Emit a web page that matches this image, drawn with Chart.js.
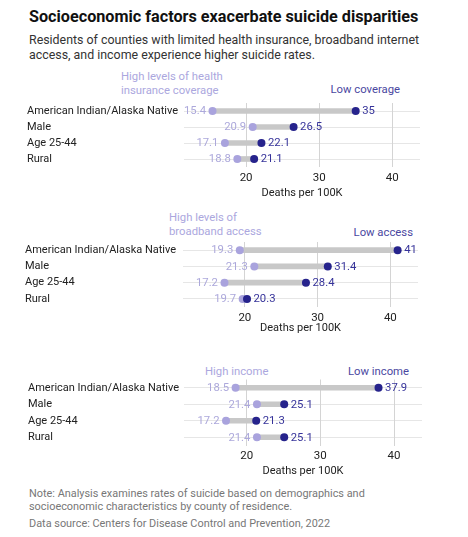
<!DOCTYPE html>
<html>
<head>
<meta charset="utf-8">
<script src="https://cdn.jsdelivr.net/npm/chart.js@4.4.1/dist/chart.umd.min.js"></script>
<style>
  body { margin: 0; background: #fff; font-family: Roboto, sans-serif; }
  #wrap { position: relative; width: 468px; height: 537px; overflow: hidden; }
  .abs { position: absolute; white-space: nowrap; }
  .title { left: 29px; top: 7px; font-size: 16.2px; font-weight: 700; color: #111; }
  .sub { left: 29px; top: 32px; font-size: 12.4px; line-height: 15px; color: #333; }
  .light { color: #aba7de; font-size: 11.3px; line-height: 13.5px; }
  .dark { color: #4a479f; font-size: 11.3px; line-height: 13.5px; }
  .note { left: 29px; font-size: 10.9px; line-height: 13px; color: #777; }
  .panel { position: absolute; left: 0; width: 468px; }
</style>
</head>
<body>
<div id="wrap">
  <div class="abs title">Socioeconomic factors exacerbate suicide disparities</div>
  <div class="abs sub">Residents of counties with limited health insurance, broadband internet<br>access, and income experience higher suicide rates.</div>

  <div class="abs light" style="left:121px; top:70px;">High levels of health<br>insurance coverage</div>
  <div class="abs dark" style="right:68px; top:83px;">Low coverage</div>
  <div class="panel" style="top:65px; height:135px;"><canvas id="c1"></canvas></div>

  <div class="abs light" style="left:169px; top:211px;">High levels of<br>broadband access</div>
  <div class="abs dark" style="right:55px; top:226px;">Low access</div>
  <div class="panel" style="top:210px; height:125px;"><canvas id="c2"></canvas></div>

  <div class="abs light" style="left:205px; top:365px;">High income</div>
  <div class="abs dark" style="right:59px; top:365px;">Low income</div>
  <div class="panel" style="top:350px; height:128px;"><canvas id="c3"></canvas></div>

  <div class="abs note" style="top:487px;">Note: Analysis examines rates of suicide based on demographics and<br>socioeconomic characteristics by county of residence.</div>
  <div class="abs note" style="top:517px;">Data source: Centers for Disease Control and Prevention, 2022</div>
</div>
<script>
// categories and values (deaths per 100K)
const groups = ['American Indian/Alaska Native', 'Male', 'Age 25-44', 'Rural'];
const xTicks = [20, 30, 40];

const insuranceHigh = [15.4, 20.9, 17.1, 18.8];
const insuranceLow = [35, 26.5, 22.1, 21.1];

const broadbandHigh = [19.3, 21.3, 17.2, 19.7];
const broadbandLow = [41, 31.4, 28.4, 20.3];

const incomeHigh = [18.5, 21.4, 17.2, 21.4];
const incomeLow = [37.9, 25.1, 21.3, 25.1];

const lightColor = '#a9a3dd';
const darkColor = '#26238c';

// draws the value next to each dot
const valueLabels = {
    id: 'valueLabels',
    afterDatasetsDraw(chart) {
        const ctx = chart.ctx;
        ctx.save();
        ctx.font = '11.3px Roboto';
        ctx.textBaseline = 'middle';
        chart.data.datasets.forEach((ds, i) => {
            if (!ds.side) return;
            const meta = chart.getDatasetMeta(i);
            meta.data.forEach((pt, j) => {
                const v = ds.data[j];
                if (ds.side === 'left') {
                    ctx.fillStyle = '#aca8db';
                    ctx.textAlign = 'right';
                    ctx.fillText(v, pt.x - 6.5, pt.y + 0.5);
                } else {
                    ctx.fillStyle = '#36339a';
                    ctx.textAlign = 'left';
                    ctx.fillText(v, pt.x + 6.5, pt.y + 0.5);
                }
            });
        });
        ctx.restore();
    }
};

function makeChart(id, high, low, pad, axisHeight) {
    const ctx = document.getElementById(id).getContext('2d');
    return new Chart(ctx, {
        type: 'bar',
        data: {
            labels: groups,
            datasets: [{
                type: 'line',
                data: low,
                side: 'right',
                showLine: false,
                pointRadius: 4,
                pointHoverRadius: 4,
                pointBackgroundColor: darkColor,
                pointBorderWidth: 0,
                order: 0
            }, {
                type: 'line',
                data: high,
                side: 'left',
                showLine: false,
                pointRadius: 4,
                pointHoverRadius: 4,
                pointBackgroundColor: lightColor,
                pointBorderWidth: 0,
                order: 1
            }, {
                data: high.map((h, i) => [h, low[i]]),
                backgroundColor: '#c8c8c8',
                barThickness: 5,
                borderSkipped: false,
                order: 2
            }]
        },
        options: {
            indexAxis: 'y',
            responsive: true,
            maintainAspectRatio: false,
            animation: false,
            layout: {
                padding: { left: pad.left, right: pad.right, top: pad.top, bottom: 0 }
            },
            plugins: {
                legend: { display: false },
                tooltip: { enabled: false }
            },
            scales: {
                y: {
                    type: 'category',
                    border: { display: false },
                    grid: { offset: false, color: '#e6e6e6', drawTicks: false },
                    ticks: {
                        autoSkip: false,
                        crossAlign: 'far',
                        color: '#222',
                        padding: 0,
                        font: { family: 'Roboto', size: 11 }
                    },
                    afterFit(scale) { scale.width = pad.yWidth; }
                },
                x: {
                    type: 'linear',
                    min: 11.5,
                    max: 43.8,
                    border: { display: false },
                    grid: { color: '#d4d4d4', drawTicks: false },
                    afterBuildTicks(scale) { scale.ticks = xTicks.map(v => ({ value: v })); },
                    ticks: {
                        color: '#222',
                        padding: 4,
                        font: { family: 'Roboto', size: 11.5 }
                    },
                    title: {
                        display: true,
                        text: 'Deaths per 100K',
                        color: '#222',
                        padding: 0,
                        font: { family: 'Roboto', size: 11 }
                    },
                    afterFit(scale) { scale.height = axisHeight; }
                }
            }
        },
        plugins: [valueLabels]
    });
}

makeChart('c1', insuranceHigh, insuranceLow, { left: 27, right: 48, top: 38, yWidth: 157 }, 33);
makeChart('c2', broadbandHigh, broadbandLow, { left: 25, right: 50, top: 32, yWidth: 158 }, 28);
makeChart('c3', incomeHigh, incomeLow, { left: 28, right: 46, top: 29.5, yWidth: 156 }, 32.5);
</script>
</body>
</html>
